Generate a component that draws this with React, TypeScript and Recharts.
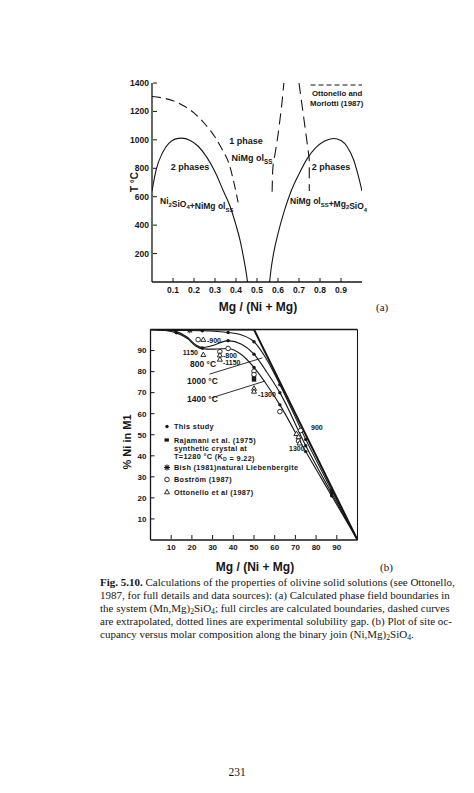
import React from 'react';
import { ComposedChart, Line, Scatter, XAxis, YAxis, ReferenceLine } from 'recharts';

const INK = '#161616';
const SANS = '"Liberation Sans", Arial, sans-serif';
const SERIF = '"Liberation Serif", "Times New Roman", serif';

// ---------- (a) phase diagram ----------
const aXTicks = [0.1, 0.2, 0.3, 0.4, 0.5, 0.6, 0.7, 0.8, 0.9];
const aXLabels = ['0.1', '0.2', '0.3', '0.4', '0.5', '0.6', '0.7', '0.8', '0.9'];
const aYTicks = [200, 400, 600, 800, 1000, 1200, 1400];
const aYLabels = ['200', '400', '600', '800', '1000', '1200', '1400'];

const aSolidLeft = [
  { x: 0, T: 640 }, { x: 0.02, T: 790 }, { x: 0.05, T: 910 }, { x: 0.08, T: 975 },
  { x: 0.11, T: 1005 }, { x: 0.14, T: 1012 }, { x: 0.18, T: 998 }, { x: 0.22, T: 955 },
  { x: 0.26, T: 880 }, { x: 0.3, T: 775 }, { x: 0.34, T: 640 }, { x: 0.37, T: 540 },
  { x: 0.4, T: 400 }, { x: 0.42, T: 290 }, { x: 0.435, T: 180 }, { x: 0.447, T: 80 }, { x: 0.455, T: 0 },
];
const aSolidRight = [
  { x: 0.56, T: 0 }, { x: 0.567, T: 90 }, { x: 0.58, T: 210 }, { x: 0.6, T: 340 },
  { x: 0.63, T: 500 }, { x: 0.66, T: 630 }, { x: 0.7, T: 760 }, { x: 0.74, T: 870 },
  { x: 0.78, T: 945 }, { x: 0.82, T: 990 }, { x: 0.865, T: 1010 }, { x: 0.9, T: 995 },
  { x: 0.93, T: 950 }, { x: 0.96, T: 860 }, { x: 0.98, T: 760 }, { x: 1, T: 640 },
];
const aDashLeft = [
  { x: 0, T: 1305 }, { x: 0.05, T: 1295 }, { x: 0.1, T: 1275 }, { x: 0.15, T: 1240 },
  { x: 0.2, T: 1190 }, { x: 0.25, T: 1115 }, { x: 0.3, T: 1020 }, { x: 0.335, T: 930 },
  { x: 0.365, T: 840 }, { x: 0.39, T: 700 }, { x: 0.41, T: 560 },
];
const aDashMidLeft = [
  { x: 0.572, T: 635 }, { x: 0.575, T: 790 }, { x: 0.587, T: 910 }, { x: 0.599, T: 1025 },
  { x: 0.61, T: 1150 }, { x: 0.619, T: 1263 }, { x: 0.628, T: 1400 },
];
const aDashMidRight = [
  { x: 0.7, T: 1400 }, { x: 0.712, T: 1270 }, { x: 0.724, T: 1140 }, { x: 0.735, T: 1020 },
  { x: 0.744, T: 920 }, { x: 0.749, T: 860 }, { x: 0.749, T: 640 },
];

// ---------- (b) site occupancy ----------
const bTicks = [10, 20, 30, 40, 50, 60, 70, 80, 90];
const bXLabels = ['10', '20', '30', '40', '50', '60', '70', '80', '90'];
const bYLabels = ['10', '20', '30', '40', '50', '60', '70', '80', '90'];

const bOrdered = [{ x: 0, y: 100 }, { x: 50, y: 100 }, { x: 100, y: 0 }];
const b800 = [
  { x: 0, y: 100 }, { x: 12.5, y: 99.6 }, { x: 25, y: 99.4 }, { x: 37.5, y: 98.6 },
  { x: 44, y: 97.4 }, { x: 50, y: 94.2 }, { x: 56, y: 86 }, { x: 62.5, y: 73.8 },
  { x: 75, y: 47.8 }, { x: 87.5, y: 23.6 }, { x: 100, y: 0 },
];
const b1000 = [
  { x: 0, y: 100 }, { x: 8, y: 99.6 }, { x: 12.5, y: 99 }, { x: 18, y: 96.2 },
  { x: 22, y: 92.6 }, { x: 25, y: 91.4 }, { x: 30, y: 92.4 }, { x: 37.5, y: 94.7 },
  { x: 44, y: 93 }, { x: 50, y: 88.3 }, { x: 56, y: 80 }, { x: 62.5, y: 70 },
  { x: 75, y: 44.8 }, { x: 87.5, y: 22.2 }, { x: 100, y: 0 },
];
const b1400 = [
  { x: 0, y: 100 }, { x: 8, y: 99.4 }, { x: 12.5, y: 98.4 }, { x: 18, y: 95.6 },
  { x: 22, y: 92 }, { x: 25, y: 90.8 }, { x: 31, y: 90.7 }, { x: 37.5, y: 91 },
  { x: 44, y: 88 }, { x: 50, y: 82 }, { x: 56, y: 74 }, { x: 62.5, y: 64.2 },
  { x: 75, y: 42 }, { x: 87.5, y: 21 }, { x: 100, y: 0 },
];
const bStudy = [
  { x: 12.5, y: 98.4 }, { x: 25, y: 99.4 }, { x: 25, y: 91.2 }, { x: 37.5, y: 98.6 },
  { x: 37.5, y: 94.7 }, { x: 37.5, y: 91 }, { x: 50, y: 94.2 }, { x: 50, y: 88.3 },
  { x: 50, y: 82 }, { x: 62.5, y: 73.8 }, { x: 62.5, y: 70 }, { x: 62.5, y: 64.2 },
  { x: 75, y: 47.8 }, { x: 75, y: 44.8 }, { x: 75, y: 42 }, { x: 87.5, y: 23.6 },
  { x: 87.5, y: 22.2 }, { x: 87.5, y: 21 },
];
const bBish = [{ x: 19, y: 99.7 }];
const bRajamani = [{ x: 50, y: 77.3 }, { x: 50, y: 76 }];
const bBostrom = [
  { x: 23, y: 95.2 }, { x: 33.5, y: 89.5 }, { x: 37.5, y: 91 }, { x: 50, y: 80.2 },
  { x: 50, y: 78.6 }, { x: 62.5, y: 61 }, { x: 72.5, y: 52 }, { x: 71.5, y: 47 },
];
const bOttonello = [
  { x: 25.5, y: 95.2 }, { x: 25.5, y: 88 }, { x: 33.5, y: 87.8 }, { x: 33.5, y: 85.8 },
  { x: 50, y: 72 }, { x: 50, y: 70.6 }, { x: 70.5, y: 50.5 }, { x: 71.5, y: 49 }, { x: 72, y: 46 },
];

const lbl = (ticks: number[], labels: string[], v: number) => labels[ticks.indexOf(v)] ?? '';

const makeLeftTick = (ticks: number[], labels: string[], fs: number) => (p: any) => (
  <g>
    <line x1={p.x + 4} x2={p.x + 8} y1={p.y} y2={p.y} stroke={INK} strokeWidth={1} />
    <text x={p.x} y={p.y} dy="0.35em" textAnchor="end" fontSize={fs} fontWeight="bold" fontFamily={SANS} fill={INK}>
      {lbl(ticks, labels, p.payload.value)}
    </text>
  </g>
);
const makeBottomTick = (ticks: number[], labels: string[], fs: number) => (p: any) => (
  <g>
    <line x1={p.x} x2={p.x} y1={p.y - 5} y2={p.y - 9} stroke={INK} strokeWidth={1} />
    <text x={p.x} y={p.y} dy="0.75em" textAnchor="middle" fontSize={fs} fontWeight="bold" fontFamily={SANS} fill={INK}>
      {lbl(ticks, labels, p.payload.value)}
    </text>
  </g>
);
const RightTick = (p: any) => (
  <line x1={p.x} x2={p.x - 4} y1={p.y} y2={p.y} stroke={INK} strokeWidth={1} />
);

const Dot = (p: any) => <circle cx={p.cx} cy={p.cy} r={1.7} fill={INK} />;
const OpenCircle = (p: any) => <circle cx={p.cx} cy={p.cy} r={2.3} fill="#fff" stroke={INK} strokeWidth={0.9} />;
const Square = (p: any) => <rect x={p.cx - 2.2} y={p.cy - 1.6} width={4.4} height={3.2} fill={INK} />;
const Tri = (p: any) => (
  <path d={`M${p.cx},${p.cy - 2.6} L${p.cx + 2.5},${p.cy + 1.8} L${p.cx - 2.5},${p.cy + 1.8} Z`} fill="#fff" stroke={INK} strokeWidth={0.9} />
);
const Star = (p: any) => (
  <g stroke={INK} strokeWidth={1.1}>
    <line x1={p.cx - 3} x2={p.cx + 3} y1={p.cy} y2={p.cy} />
    <line x1={p.cx} x2={p.cx} y1={p.cy - 3} y2={p.cy + 3} />
    <line x1={p.cx - 2.2} x2={p.cx + 2.2} y1={p.cy - 2.2} y2={p.cy + 2.2} />
    <line x1={p.cx - 2.2} x2={p.cx + 2.2} y1={p.cy + 2.2} y2={p.cy - 2.2} />
  </g>
);

const T = (props: any) => (
  <text fontFamily={SANS} fontWeight="bold" fill={INK} fontSize={8.5} {...props} />
);
const Sub = ({ children, d = 2.5 }: any) => (
  <tspan fontSize="0.7em" dy={d}>{children}</tspan>
);
const Up = ({ d = 2.5 }: any) => <tspan dy={-d}></tspan>;

const subStyle = { fontSize: '0.7em', verticalAlign: '-0.25em', lineHeight: 0 } as const;
const legendFont = { fontSize: 7.3, letterSpacing: 0.35 };

export default function App() {
  const lineProps = { dot: false, isAnimationActive: false, stroke: INK, strokeWidth: 1.1 } as const;
  return (
    <div style={{ position: 'absolute', left: 0, top: 0, width: 474, height: 793, background: '#fff', overflow: 'hidden' }}>
      {/* chart (a) */}
      <div style={{ position: 'absolute', left: 0, top: 0 }}>
        <ComposedChart width={474} height={330} margin={{ top: 83, right: 112, bottom: 18, left: 112 }}>
          <XAxis dataKey="x" type="number" domain={[0, 1]} ticks={aXTicks} interval={0} height={30} tickSize={0} tickMargin={5}
            axisLine={{ stroke: INK, strokeWidth: 1.3 }} tickLine={false} tick={makeBottomTick(aXTicks, aXLabels, 8.5)} allowDataOverflow />
          <YAxis dataKey="T" type="number" domain={[0, 1400]} ticks={aYTicks} interval={0} width={40} tickSize={0} tickMargin={3}
            axisLine={{ stroke: INK, strokeWidth: 1.3 }} tickLine={false} tick={makeLeftTick(aYTicks, aYLabels, 8.5)} allowDataOverflow />
          <Line data={aSolidLeft} dataKey="T" type="monotone" {...lineProps} />
          <Line data={aSolidRight} dataKey="T" type="monotone" {...lineProps} />
          <Line data={aDashLeft} dataKey="T" type="monotone" strokeDasharray="9 5" {...lineProps} />
          <Line data={aDashMidLeft} dataKey="T" type="monotone" strokeDasharray="11 6" {...lineProps} />
          <Line data={aDashMidRight} dataKey="T" type="linear" strokeDasharray="11 6" {...lineProps} />
          <ReferenceLine segment={[{ x: 0.755, y: 1386 }, { x: 1, y: 1386 }]} stroke={INK} strokeDasharray="5 3" strokeWidth={1.1} />
        </ComposedChart>
      </div>

      {/* chart (b) */}
      <div style={{ position: 'absolute', left: 0, top: 300 }}>
        <ComposedChart width={474} height={290} margin={{ top: 29.5, right: 106.5, bottom: 20, left: 110.5 }}>
          <XAxis dataKey="x" type="number" domain={[0, 100]} ticks={bTicks} interval={0} height={30} tickSize={0} tickMargin={4}
            axisLine={{ stroke: INK, strokeWidth: 1.3 }} tickLine={false} tick={makeBottomTick(bTicks, bXLabels, 8)} allowDataOverflow />
          <YAxis dataKey="y" type="number" domain={[0, 100]} ticks={bTicks} interval={0} width={40} tickSize={0} tickMargin={4}
            axisLine={{ stroke: INK, strokeWidth: 1.3 }} tickLine={false} tick={makeLeftTick(bTicks, bYLabels, 8)} allowDataOverflow />
          <YAxis yAxisId="r" orientation="right" type="number" domain={[0, 100]} ticks={bTicks} interval={0} width={10} tickSize={0} tickMargin={0}
            axisLine={{ stroke: INK, strokeWidth: 1.1 }} tickLine={false} tick={RightTick} />
          <ReferenceLine y={100} stroke={INK} strokeWidth={1.3} />
          <Line data={bOrdered} dataKey="y" type="linear" {...lineProps} strokeWidth={2} />
          <Line data={b800} dataKey="y" type="monotone" {...lineProps} />
          <Line data={b1000} dataKey="y" type="monotone" {...lineProps} />
          <Line data={b1400} dataKey="y" type="monotone" {...lineProps} />
          <ReferenceLine segment={[{ x: 28.5, y: 78.8 }, { x: 54, y: 86.5 }]} stroke={INK} strokeWidth={0.9} />
          <ReferenceLine segment={[{ x: 29.7, y: 67.6 }, { x: 55.3, y: 75.5 }]} stroke={INK} strokeWidth={0.9} />
          <Scatter data={bStudy} dataKey="y" shape={Dot} isAnimationActive={false} />
          <Scatter data={bBish} dataKey="y" shape={Star} isAnimationActive={false} />
          <Scatter data={bRajamani} dataKey="y" shape={Square} isAnimationActive={false} />
          <Scatter data={bBostrom} dataKey="y" shape={OpenCircle} isAnimationActive={false} />
          <Scatter data={bOttonello} dataKey="y" shape={Tri} isAnimationActive={false} />
        </ComposedChart>
      </div>

      {/* annotations */}
      <svg width={474} height={793} style={{ position: 'absolute', left: 0, top: 0, pointerEvents: 'none' }}>
        {/* (a) */}
        <T x={246} y={144} textAnchor="middle" fontSize={9}>1 phase</T>
        <T x={252} y={161} textAnchor="middle" fontSize={9}>NiMg ol<Sub>SS</Sub></T>
        <T x={190} y={170} textAnchor="middle" fontSize={9}>2 phases</T>
        <T x={331} y={170} textAnchor="middle" fontSize={9}>2 phases</T>
        <T x={160} y={204} fontSize={8.5}>Ni<Sub>2</Sub><Up />SiO<Sub>4</Sub><Up />+NiMg ol<Sub>SS</Sub></T>
        <T x={290} y={204} fontSize={8.5}>NiMg ol<Sub>SS</Sub><Up />+Mg<Sub>2</Sub><Up />SiO<Sub>4</Sub></T>
        <T x={312} y={96} fontSize={7.8}>Ottonello and</T>
        <T x={310} y={106} fontSize={7.8}>Morlotti (1987)</T>
        <T x={0} y={0} fontSize={10} transform="translate(138,182) rotate(-90)" textAnchor="middle">T °C</T>
        <T x={258} y={311} textAnchor="middle" fontSize={12}>Mg / (Ni + Mg)</T>
        <text x={376} y={311} fontFamily={SERIF} fontSize={11} fill={INK}>(a)</text>

        {/* (b) */}
        <T x={207} y={343} fontSize={7}>-900</T>
        <T x={198} y={355} fontSize={7} textAnchor="end">1150</T>
        <T x={223} y={358} fontSize={7}>-800</T>
        <T x={223} y={364.5} fontSize={7}>-1150</T>
        <T x={190} y={367} fontSize={8.5}>800 °C</T>
        <T x={187} y={384} fontSize={8.5}>1000 °C</T>
        <T x={187} y={402} fontSize={8.5}>1400 °C</T>
        <T x={258} y={397} fontSize={7}>-1300</T>
        <T x={311} y={430} fontSize={7}>900</T>
        <T x={289} y={451} fontSize={7}>1300</T>

        <circle cx={167} cy={426.5} r={1.7} fill={INK} />
        <T x={174} y={429} {...legendFont}>This study</T>
        <rect x={164.5} y={438.4} width={4.4} height={3.2} fill={INK} />
        <T x={174} y={442.5} {...legendFont}>Rajamani et al. (1975)</T>
        <T x={174} y={451} {...legendFont}>synthetic crystal at</T>
        <T x={174} y={459} {...legendFont}>T=1280 °C (K<Sub d={1.5}>D</Sub><Up d={1.5} /> = 9.22)</T>
        <Star cx={167} cy={467.5} />
        <T x={174} y={470} {...legendFont}>Bish (1981)natural Liebenbergite</T>
        <OpenCircle cx={167} cy={479.5} />
        <T x={174} y={482} {...legendFont}>Boström (1987)</T>
        <Tri cx={167} cy={492} />
        <T x={174} y={494.5} {...legendFont}>Ottonello et al (1987)</T>
        <T x={0} y={0} fontSize={11} transform="translate(131,442) rotate(-90)" textAnchor="middle">% Ni in M1</T>
        <T x={255} y={571} textAnchor="middle" fontSize={12}>Mg / (Ni + Mg)</T>
        <text x={380} y={571} fontFamily={SERIF} fontSize={11} fill={INK}>(b)</text>
      </svg>

      {/* caption */}
      <div style={{ position: 'absolute', left: 100, top: 576, width: 346, fontFamily: SERIF, fontSize: 11, lineHeight: '13px', color: INK }}>
        {[
          <><b>Fig. 5.10.</b> Calculations of the properties of olivine solid solutions (see Ottonello,</>,
          <>1987, for full details and data sources): (a) Calculated phase field boundaries in</>,
          <>the system (Mn,Mg)<span style={subStyle}>2</span>SiO<span style={subStyle}>4</span>; full circles are calculated boundaries, dashed curves</>,
          <>are extrapolated, dotted lines are experimental solubility gap. (b) Plot of site oc-</>,
        ].map((c, i) => (
          <div key={i} style={{ textAlign: 'justify', textAlignLast: 'justify', whiteSpace: 'nowrap' as any }}>{c}</div>
        ))}
        <div>cupancy versus molar composition along the binary join (Ni,Mg)<span style={subStyle}>2</span>SiO<span style={subStyle}>4</span>.</div>
      </div>
      <div style={{ position: 'absolute', left: 0, width: 474, top: 766, textAlign: 'center', fontFamily: SERIF, fontSize: 11.5, color: INK }}>231</div>
    </div>
  );
}
